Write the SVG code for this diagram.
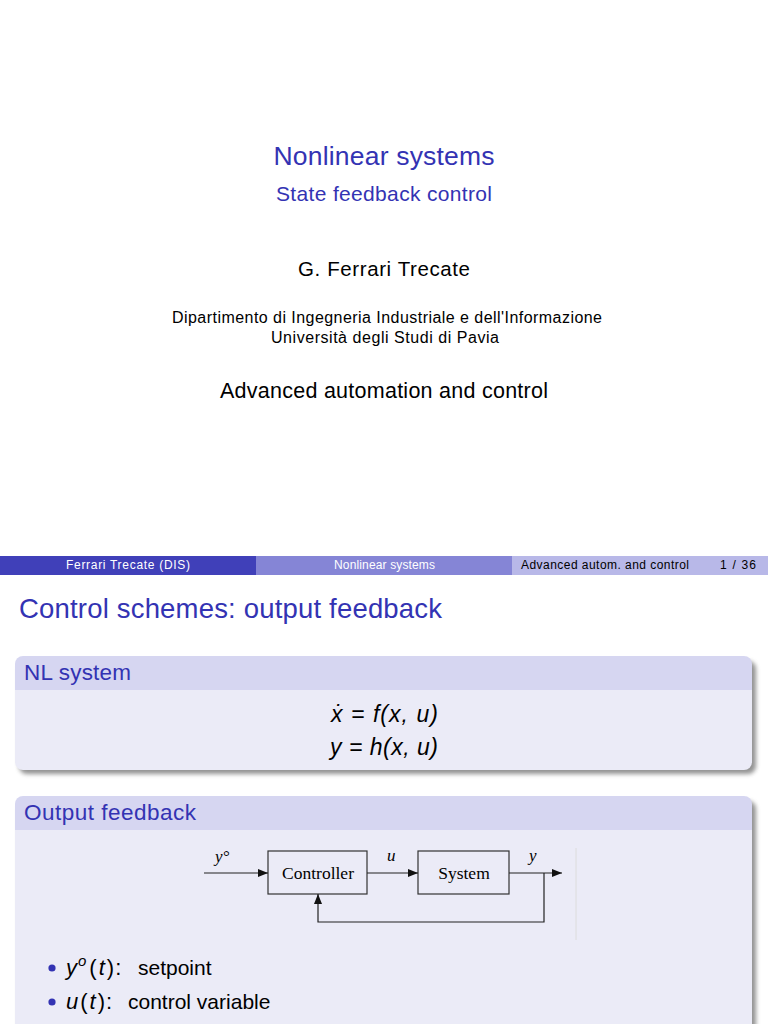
<svg xmlns="http://www.w3.org/2000/svg" width="768" height="1024" viewBox="0 0 768 1024">
<defs>
<style>
.s{font-family:"Liberation Sans","DejaVu Sans",sans-serif}
.t{fill:#3333b3}
.k{fill:#000}
.m{font-family:"Liberation Serif","DejaVu Serif",serif}
.i{font-style:italic}
.hdr{fill:#d6d6f1}
.body{fill:#ebebf7}
.box{fill:none;stroke:#333;stroke-width:1.2}
.ln{fill:none;stroke:#222;stroke-width:1.2}
</style>
<marker id="ar" viewBox="0 0 10 10" refX="10" refY="5" markerWidth="10" markerHeight="10" markerUnits="userSpaceOnUse" orient="auto">
<path d="M0,1 L10,5 L0,9 Z" fill="#111"/>
</marker>
<filter id="sh" x="-5%" y="-5%" width="110%" height="120%">
<feGaussianBlur stdDeviation="2"/>
</filter>
</defs>
<rect width="768" height="1024" fill="#fff"/>
<g id="title-slide">
<text class="s t" x="384" y="165" font-size="26.5" text-anchor="middle" textLength="221">Nonlinear systems</text>
<text class="s t" x="384" y="201" font-size="21" text-anchor="middle" textLength="216">State feedback control</text>
<text class="s k" x="384" y="276" font-size="20.5" text-anchor="middle" textLength="172">G. Ferrari Trecate</text>
<text class="s k" x="387" y="323" font-size="16" text-anchor="middle" textLength="430">Dipartimento di Ingegneria Industriale e dell'Informazione</text>
<text class="s k" x="385" y="343" font-size="16" text-anchor="middle" textLength="228">Università degli Studi di Pavia</text>
<text class="s k" x="384" y="398" font-size="21.5" text-anchor="middle" textLength="328">Advanced automation and control</text>
</g>
<g id="footer">
<rect x="0" y="556" width="256" height="19" fill="#4040b9"/>
<rect x="256" y="556" width="256" height="19" fill="#8585d6"/>
<rect x="512" y="556" width="256" height="19" fill="#b8b8e8"/>
<text class="s" x="66" y="569" font-size="12" fill="#fff" textLength="124">Ferrari Trecate  (DIS)</text>
<text class="s" x="334" y="569" font-size="12" fill="#fff" textLength="101">Nonlinear systems</text>
<text class="s" x="521" y="569" font-size="12" fill="#000" textLength="168">Advanced autom. and control</text>
<text class="s" x="720" y="569" font-size="12" fill="#000" textLength="36">1 / 36</text>
</g>
<text class="s t" x="19" y="618" font-size="27.5" textLength="423">Control schemes: output feedback</text>
<g id="block-nl">
<rect x="19" y="661" width="737" height="113" rx="8" fill="#666" opacity="0.7" filter="url(#sh)"/>
<path d="M15,690 V664 a8,8 0 0 1 8,-8 H744 a8,8 0 0 1 8,8 V690 Z" class="hdr"/>
<path d="M15,690 H752 V762 a8,8 0 0 1 -8,8 H23 a8,8 0 0 1 -8,-8 Z" class="body"/>
<text class="s t" x="24" y="680" font-size="22.5" textLength="107">NL system</text>
<text class="s i k" x="331" y="722" font-size="23" textLength="107">ẋ = f(x, u)</text>
<text class="s i k" x="330" y="755" font-size="23" textLength="108">y = h(x, u)</text>
</g>
<g id="block-of">
<rect x="19" y="801" width="737" height="240" rx="8" fill="#666" opacity="0.7" filter="url(#sh)"/>
<path d="M15,830 V804 a8,8 0 0 1 8,-8 H744 a8,8 0 0 1 8,8 V830 Z" class="hdr"/>
<rect x="15" y="830" width="737" height="200" class="body"/>
<text class="s t" x="24" y="820" font-size="22.5" textLength="172">Output feedback</text>
<line x1="576" y1="848" x2="576" y2="940" stroke="#dcdcdc" stroke-width="1"/>
<g id="controller">
<rect x="268" y="851" width="99" height="43" class="box"/>
<text class="m k" x="318" y="879" font-size="17.5" text-anchor="middle">Controller</text>
</g>
<g id="system">
<rect x="418" y="851" width="91" height="43" class="box"/>
<text class="m k" x="464" y="879" font-size="17.5" text-anchor="middle">System</text>
</g>
<g id="connectors">
<line x1="204" y1="873" x2="268" y2="873" class="ln" marker-end="url(#ar)"/>
<line x1="367" y1="873" x2="418" y2="873" class="ln" marker-end="url(#ar)"/>
<line x1="509" y1="873" x2="562" y2="873" class="ln" marker-end="url(#ar)"/>
<polyline points="544,873 544,922 318,922 318,894" class="ln" marker-end="url(#ar)"/>
</g>
<text class="m i k" x="215" y="862" font-size="17">y°</text>
<text class="m i k" x="387" y="861" font-size="17">u</text>
<text class="m i k" x="529" y="861" font-size="17">y</text>
<circle cx="52" cy="968" r="3.6" fill="#3333b3"/>
<text class="s k" x="66" y="975" font-size="22"><tspan font-style="italic">y</tspan><tspan font-style="italic" font-size="15" dy="-9" dx="1">o</tspan><tspan dy="9" dx="3">(</tspan><tspan font-style="italic" dx="2">t</tspan><tspan dx="2">)</tspan><tspan dx="1">:</tspan><tspan x="138" font-size="21">setpoint</tspan></text>
<circle cx="52" cy="1002" r="3.6" fill="#3333b3"/>
<text class="s k" x="66" y="1009" font-size="22"><tspan font-style="italic">u</tspan><tspan dx="2">(</tspan><tspan font-style="italic" dx="2">t</tspan><tspan dx="2">)</tspan><tspan dx="1">:</tspan><tspan x="128" font-size="21">control variable</tspan></text>
</g>
</svg>
